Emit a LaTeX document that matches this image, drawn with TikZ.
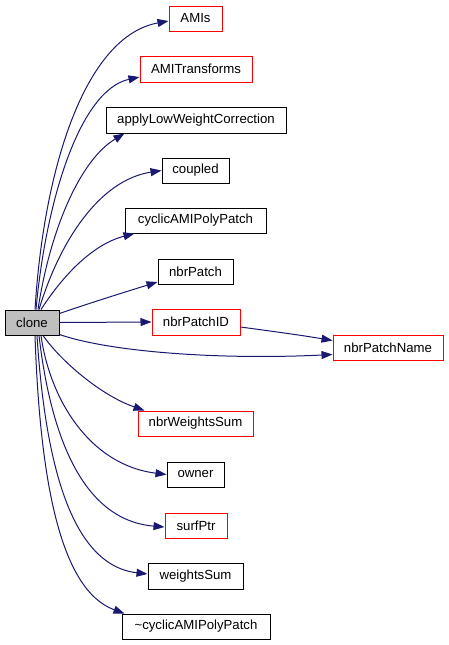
\documentclass[tikz,border=0pt]{standalone}
\usepackage{fontspec}
\setmainfont{Liberation Sans}
\usetikzlibrary{arrows.meta,calc}
\definecolor{edgeblue}{RGB}{25,25,112}
\definecolor{clonegray}{RGB}{191,191,191}
\definecolor{boxred}{RGB}{255,0,0}
\begin{document}
\begin{tikzpicture}[x=1pt,y=-1pt,
  box/.style={draw=black,line width=1pt,minimum height=25pt,inner sep=0pt,font=\fontsize{13.2}{15}\selectfont,text=black},
  redbox/.style={box,draw=boxred},
  edge/.style={draw=edgeblue,line width=1pt,-{Triangle[length=11pt,width=8pt]},fill=none}]
\useasboundingbox (0,0) rectangle (448,645);
\node[box,fill=clonegray,minimum width=54pt] (clone) at (32,322.5) {clone};
\node[redbox,minimum width=53pt] (amis) at (195.5,18.5) {AMIs};
\node[redbox,minimum width=112pt,minimum height=26pt] (amit) at (196,69) {AMITransforms};
\node[box,minimum width=180pt,minimum height=26pt] (alwc) at (196,120) {applyLowWeightCorrection};
\node[box,minimum width=67pt] (coupled) at (195.5,170.5) {coupled};
\node[box,minimum width=141pt] (cyc) at (195.5,220.5) {cyclicAMIPolyPatch};
\node[box,minimum width=75pt] (nbrp) at (195.5,271.5) {nbrPatch};
\node[redbox,minimum width=88pt,minimum height=26pt] (nbrid) at (196,322) {nbrPatchID};
\node[redbox,minimum width=110pt] (nbrname) at (388,347.5) {nbrPatchName};
\node[redbox,minimum width=115pt] (nws) at (195.5,423.5) {nbrWeightsSum};
\node[box,minimum width=57pt] (owner) at (195.5,474.5) {owner};
\node[redbox,minimum width=62pt] (surf) at (196,525.5) {surfPtr};
\node[box,minimum width=95pt,minimum height=26pt] (ws) at (195.5,576) {weightsSum};
\node[box,minimum width=148pt] (ncyc) at (196,626.5) {\textasciitilde cyclicAMIPolyPatch};

\draw[edge] ($(clone.north)+(3,0)$) .. controls (44,165) and (86,36) .. ($(amis.west)+(0,2.5)$);
\draw[edge] ($(clone.north)+(4,0)$) .. controls (46,200) and (80,90) .. ($(amit.west)+(0,8)$);
\draw[edge] ($(clone.north)+(6,0)$) .. controls (50,230) and (80,160) .. ($(alwc.south west)+(19,0)$);
\draw[edge] ($(clone.north)+(7,0)$) .. controls (60,240) and (100,180) .. (coupled.west);
\draw[edge] ($(clone.north)+(9,0)$) .. controls (60,280) and (90,245) .. ($(cyc.south west)+(10,0)$);
\draw[edge] ($(clone.east)+(0,-9)$) .. controls (90,303) and (125,292) .. ($(nbrp.south west)+(0,-2.5)$);
\draw[edge] (clone.east) -- (nbrid.west);
\draw[edge] ($(clone.south east)+(0,-1)$) .. controls (110,352) and (220,360) .. ($(nbrname.west)+(0,7)$);
\draw[edge] ($(nbrid.east)+(0,5)$) .. controls (270,331) and (300,335) .. ($(nbrname.west)+(0,-7)$);
\draw[edge] ($(clone.south)+(11,0)$) .. controls (60,360) and (100,395) .. ($(nws.north west)+(7,0)$);
\draw[edge] ($(clone.south)+(9,0)$) .. controls (50,400) and (90,465) .. (owner.west);
\draw[edge] ($(clone.south)+(7,0)$) .. controls (50,430) and (80,520) .. ($(surf.west)+(0,1.5)$);
\draw[edge] ($(clone.south)+(5,0)$) .. controls (45,460) and (70,565) .. ($(ws.west)+(0,-2)$);
\draw[edge] ($(clone.south)+(3,0)$) .. controls (40,480) and (60,590) .. ($(ncyc.north west)+(3,0)$);
\end{tikzpicture}
\end{document}
